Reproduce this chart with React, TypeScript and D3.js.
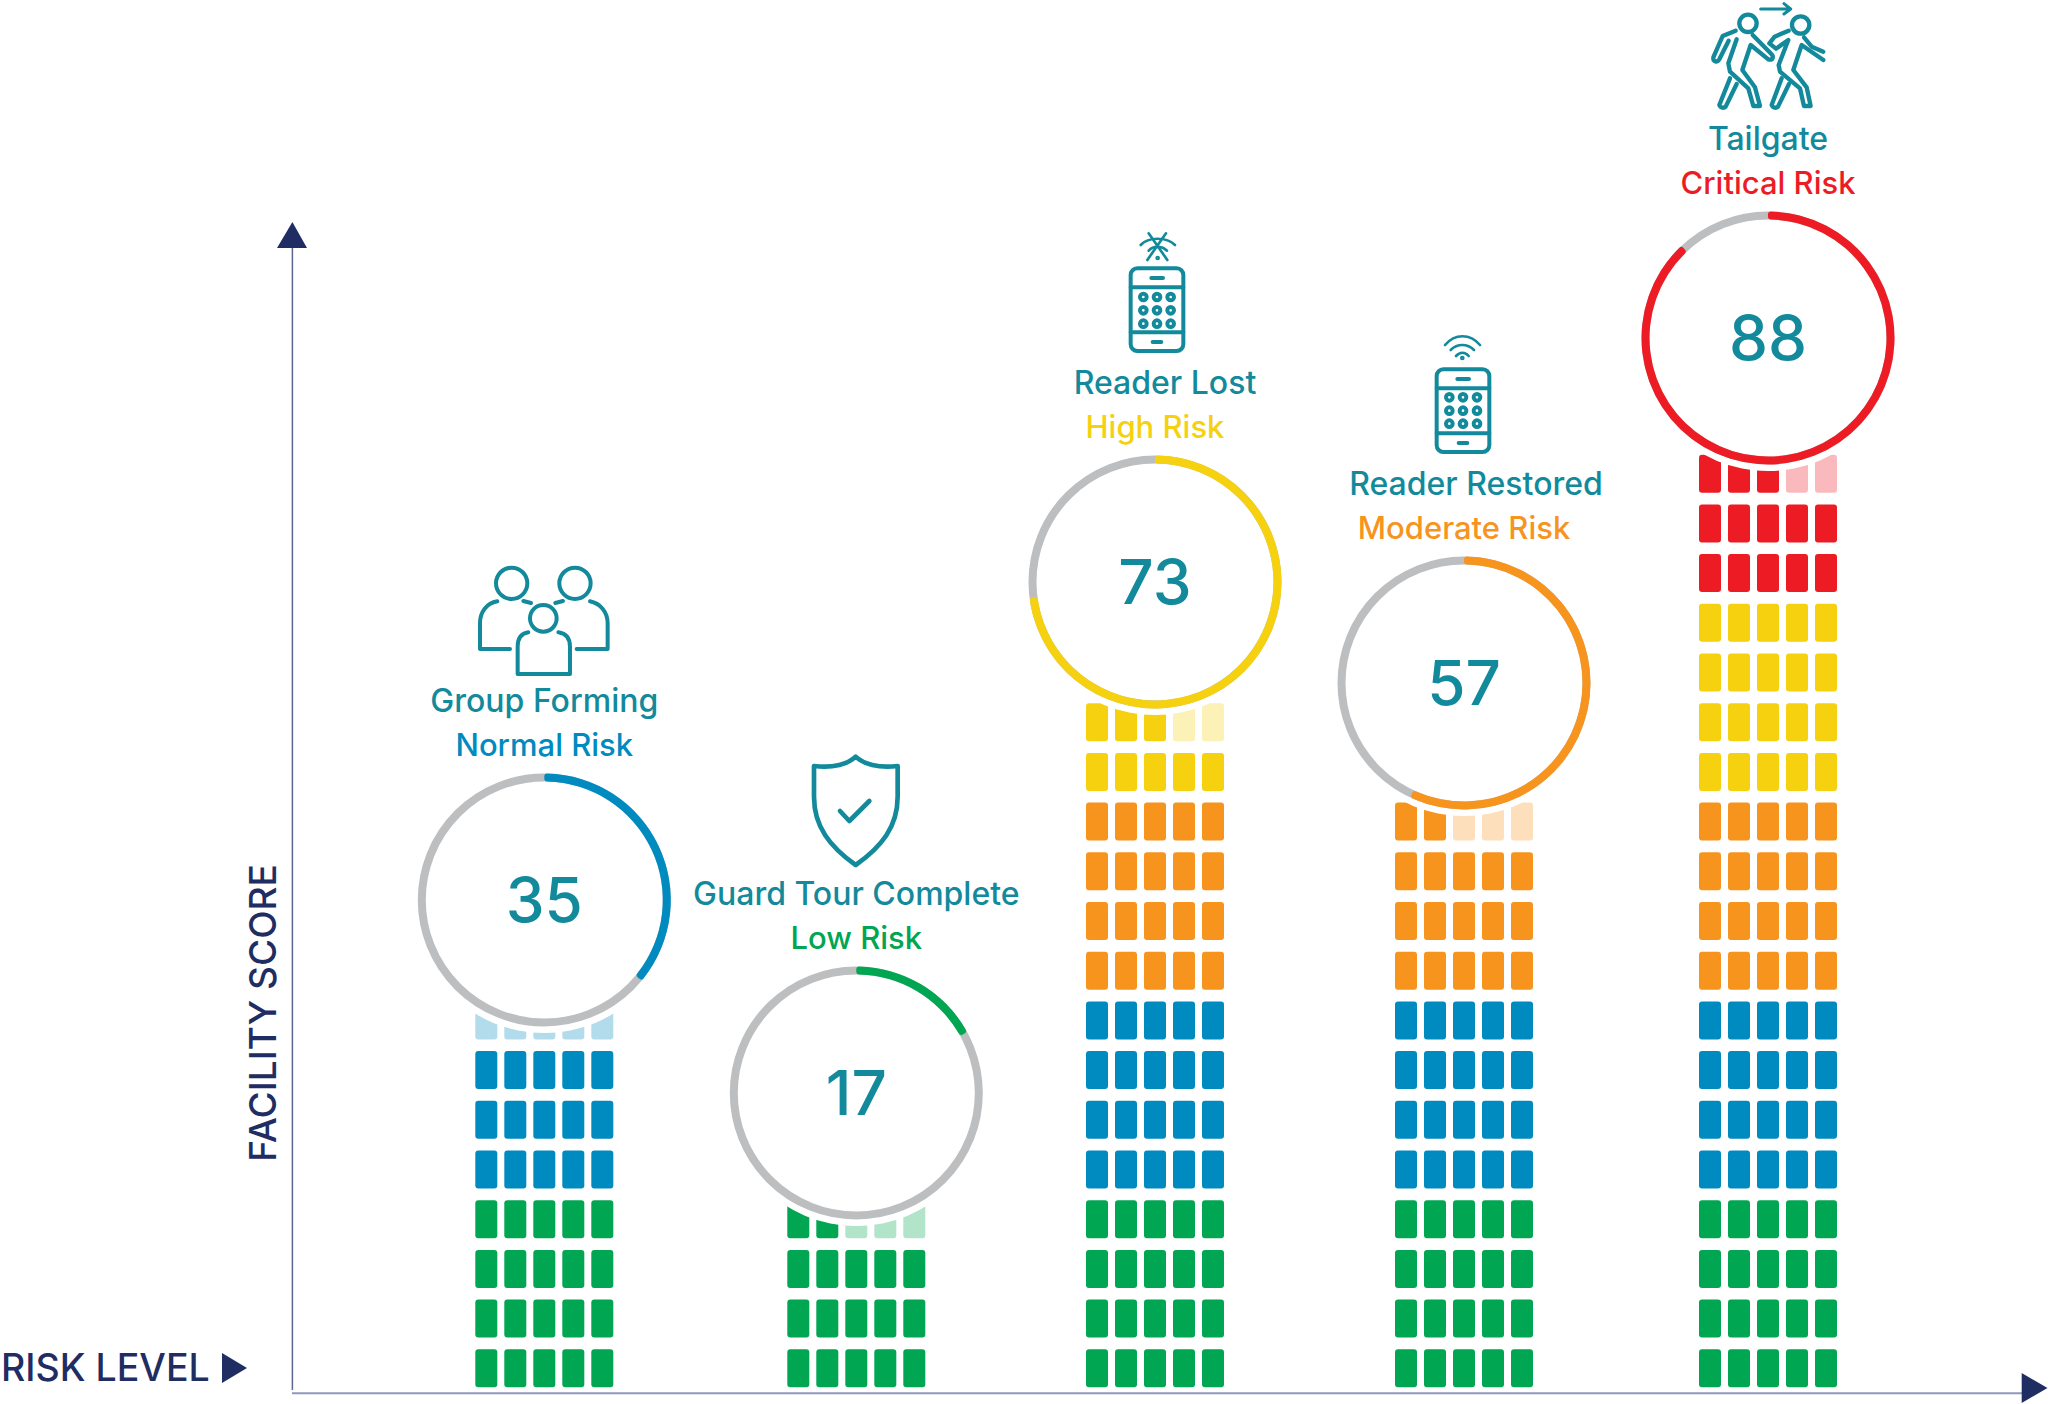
import * as d3 from "d3";

const events = ["Group Forming", "Guard Tour Complete", "Reader Lost", "Reader Restored", "Tailgate"];
const riskLabels = ["Normal Risk", "Low Risk", "High Risk", "Moderate Risk", "Critical Risk"];
const riskKeys = ["normal", "low", "high", "moderate", "critical"];
const scores = [35, 17, 73, 57, 88];
const ringShare = [36, 17, 73, 57, 88];
const litCells = [35, 17, 68, 57, 93];
const rowCounts = [8, 4, 14, 12, 19];
const icons = ["group", "shield", "antenna", "wifi", "walkers"];

const bandColors = ["#00a651", "#008bc0", "#f7941d", "#f5d10f", "#ed1c24"];
const riskColor: Record<string, string> = {
  low: "#00a651",
  normal: "#008bc0",
  moderate: "#f7941d",
  high: "#f5d10f",
  critical: "#ed1c24",
};

const width = 2048;
const height = 1404;
const teal = "#128a9c";
const navy = "#1f2d62";
const font = "Inter, sans-serif";

// layout of the columns, rings and title offsets
const columnX = d3.scaleOrdinal<string, number>().domain(events).range([544.3, 856.3, 1155, 1464, 1768]);
const ringY = d3.scaleOrdinal<string, number>().domain(events).range([900, 1093, 582, 683, 338]);
const titleShift = d3.scaleOrdinal<string, number>().domain(events).range([0, 0, 10, 12, 0]);

const perRow = 5;
const rowsPerBand = 4;
const cellW = 22;
const cellH = 38;
const rowY = d3.scaleLinear().domain([0, 18]).range([1349.3, 1349.3 - 18 * 49.7]);
const cellX = d3
  .scaleBand<number>()
  .domain(d3.range(perRow))
  .range([-69, 69])
  .paddingInner(7 / 29);
const ringAngle = d3.scaleLinear().domain([0, 100]).range([0, 2 * Math.PI]);
const ringArc = d3.arc<{ share: number }>()
  .innerRadius(118.5)
  .outerRadius(126.5)
  .cornerRadius(3)
  .startAngle(0)
  .endAngle((d) => ringAngle(d.share));

function PhoneBody({ x0, y0, keysX, keysY }: { x0: number; y0: number; keysX: number[]; keysY: number[] }) {
  return (
    <g>
      <rect x={x0} y={y0} width={158} height={248} rx={20} />
      <path d={`M${x0} ${y0 + 57}H${x0 + 158}M${x0} ${y0 + 192}H${x0 + 158}`} />
      <path d={`M${x0 + 62} ${y0 + 29}H${x0 + 97}M${x0 + 66} ${y0 + 221}H${x0 + 92}`} strokeLinecap="round" />
      {keysX.map((kx) =>
        keysY.map((ky) => <circle key={`${kx}-${ky}`} cx={kx} cy={ky} r={10} strokeWidth={12} />)
      )}
    </g>
  );
}

// icons are traced at 3x, so each group scales back down by a third
function Icon({ name }: { name: string }) {
  const common = { fill: "none", stroke: teal, strokeLinejoin: "round" as const, strokeLinecap: "round" as const };
  if (name === "group") {
    return (
      <g transform="translate(400,540) scale(0.3333)" {...common} strokeWidth={12}>
        <circle cx={335} cy={130} r={47} />
        <circle cx={525} cy={130} r={47} />
        <circle cx={430} cy={235} r={40} />
        <path d="M292 184C260 190 240 215 240 250V327H330" />
        <path d="M570 184C600 190 623 215 623 250V327H530" />
        <path d="M385 277C365 280 353 295 353 320V402H510V320C510 295 497 280 475 277" />
        <path d="M370 183L393 189M466 189L489 183" />
      </g>
    );
  }
  if (name === "shield") {
    return (
      <g transform="translate(790,740) scale(0.3333)" {...common} strokeWidth={14}>
        <path d="M197 50C175 72 130 85 72 78V170C72 260 120 320 197 375C275 320 323 260 323 170V78C265 85 220 72 197 50Z" />
        <path d="M150 213L178 243L238 183" />
      </g>
    );
  }
  if (name === "antenna") {
    return (
      <g transform="translate(1090,220) scale(0.3333)" {...common} strokeWidth={12}>
        <PhoneBody x0={122} y0={145} keysX={[160, 201, 242]} keysY={[231, 271, 311]} />
        <g strokeWidth={8}>
          <path d="M152 75C175 50 230 50 255 75M176 92C190 77 215 77 231 92" />
          <path d="M176 40L232 120M228 40L172 120" />
          <circle cx={203} cy={114} r={3} />
        </g>
      </g>
    );
  }
  if (name === "wifi") {
    return (
      <g transform="translate(1410,320) scale(0.3333)" {...common} strokeWidth={12}>
        <PhoneBody x0={80} y0={148} keysX={[118, 159, 201]} keysY={[232, 272, 311]} />
        <g strokeWidth={8}>
          <path d="M105 75C135 40 180 40 210 75M122 90C142 70 172 70 192 90M138 108C150 95 165 95 176 108" />
          <circle cx={157} cy={114} r={3} />
        </g>
      </g>
    );
  }
  return (
    <g transform="translate(1680,0) scale(0.3333)" {...common} strokeWidth={13}>
      <path d="M242 27H330M312 11L332 27L312 42" strokeWidth={9} />
      <circle cx={204} cy={70} r={26} />
      <path d="M167 92L128 108L100 172C98 186 112 188 118 178L146 122" />
      <path d="M170 118L145 190L150 215L205 265L220 318H240L225 262L187 210L212 135L265 178C278 182 284 170 272 160L218 105" />
      <path d="M150 235L118 315C122 325 132 325 137 320L170 252" />
      <circle cx={362} cy={75} r={26} />
      <path d="M326 92L284 110L268 130L288 146L325 120L296 195L300 215L360 265L372 318H392L380 262L340 210L365 135L430 180" />
      <path d="M372 112L395 140L430 155" />
      <path d="M305 235L275 315C279 325 289 325 294 320L327 252" />
    </g>
  );
}

function Column({ index }: { index: number }) {
  const name = events[index];
  const cx = columnX(name);
  const cy = ringY(name);
  const lit = litCells[index];
  const color = riskColor[riskKeys[index]];
  return (
    <g>
      {d3.range(rowCounts[index]).map((row) => {
        const band = Math.min(Math.floor(row / rowsPerBand), bandColors.length - 1);
        return d3.range(perRow).map((c) => (
          <rect
            key={`${row}-${c}`}
            x={cx + (cellX(c) ?? 0)}
            y={rowY(row)}
            width={cellW}
            height={cellH}
            rx={3}
            fill={bandColors[band]}
            fillOpacity={row * perRow + c < lit ? 1 : 0.3}
          />
        ));
      })}
      <circle cx={cx} cy={cy} r={133} fill="#fff" />
      <circle cx={cx} cy={cy} r={122.5} fill="#fff" stroke="#bcbec0" strokeWidth={8} />
      <path transform={`translate(${cx},${cy})`} d={ringArc({ share: ringShare[index] }) ?? ""} fill={color} />
      <text x={cx} y={cy + 22} textAnchor="middle" fontSize={62} fontWeight={500} fill={teal} fontFamily={font}>
        {scores[index]}
      </text>
      <text
        x={cx + titleShift(name)}
        y={cy - 188}
        textAnchor="middle"
        fontSize={32}
        fontWeight={500}
        fill={teal}
        fontFamily={font}
      >
        {name}
      </text>
      <text x={cx} y={cy - 144} textAnchor="middle" fontSize={31} fontWeight={500} fill={color} fontFamily={font}>
        {riskLabels[index]}
      </text>
      <Icon name={icons[index]} />
    </g>
  );
}

export default function App() {
  return (
    <svg
      width={width}
      height={height}
      viewBox={`0 0 ${width} ${height}`}
      style={{ position: "absolute", left: 0, top: 0, display: "block", background: "#fff" }}
    >
      <line x1={292.4} x2={292.4} y1={240} y2={1390} stroke="#5d678f" strokeWidth={1.5} />
      <line x1={292} x2={2030} y1={1393.3} y2={1393.3} stroke="#8f98bb" strokeWidth={2} />
      <path d="M292.4 222L307 248H277Z" fill={navy} />
      <path d="M2047.5 1388L2021.7 1373V1403Z" fill={navy} />
      {events.map((_, i) => (
        <Column key={i} index={i} />
      ))}
      <text x={1} y={1381} fontSize={37.5} fontWeight={500} fill={navy} fontFamily={font}>
        RISK LEVEL
      </text>
      <path d="M222 1353L247 1368L222 1383Z" fill={navy} />
      <text
        transform="translate(276,1013) rotate(-90)"
        textAnchor="middle"
        fontSize={37}
        fontWeight={500}
        fill={navy}
        fontFamily={font}
      >
        FACILITY SCORE
      </text>
    </svg>
  );
}
